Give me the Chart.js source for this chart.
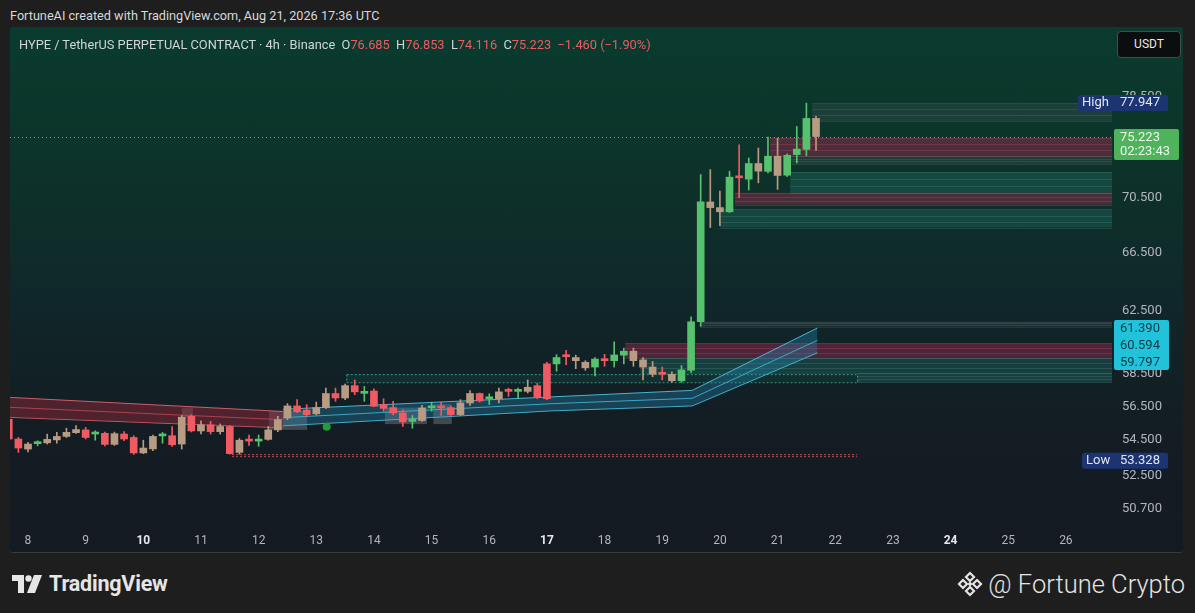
<!DOCTYPE html>
<html>
<head>
<meta charset="utf-8">
<script src="https://cdn.jsdelivr.net/npm/chart.js@4.4.1/dist/chart.umd.min.js"></script>
<style>
html,body{margin:0;padding:0;background:#1e1e1e;width:1195px;height:613px;overflow:hidden;font-family:Roboto,"Noto Sans",sans-serif;}
#credit{position:absolute;left:10px;top:8px;font-size:12.7px;color:#d8d8d8;}
#panel{position:absolute;left:10px;top:27px;width:1173px;height:525px;border-radius:3px;overflow:hidden;
  background:linear-gradient(180deg,#0a3b2e 0%,#0d3229 28%,#10272a 52%,#131d23 75%,#141a21 100%);
  box-shadow:0 1px 0 #3a3a3a;}
#wrap{position:absolute;left:-4px;top:1px;width:1177px;height:523px;}
#legend{position:absolute;left:19px;top:37px;font-size:12.8px;color:#d1d4dc;white-space:pre;}
#legend .v{color:#f05a62;}
#usdt{position:absolute;left:1117px;top:31px;width:62px;height:25px;border:1px solid #4a4a4a;border-radius:4px;background:#0c0d0f;
  color:#e8e8e8;font-size:12px;line-height:25px;text-align:center;}
#tvlogo{position:absolute;left:12px;top:571px;display:flex;align-items:center;color:#e6e6e6;font-size:21.5px;font-weight:700;letter-spacing:-0.2px;}
#brand{position:absolute;right:10px;top:569px;display:flex;align-items:center;color:#e4e4e4;font-size:25.5px;font-weight:300;}
</style>
</head>
<body>
<div id="credit">FortuneAI created with TradingView.com, Aug 21, 2026 17:36 UTC</div>
<div id="panel"><div id="wrap"><canvas id="grafico"></canvas></div></div>
<div id="legend"></div>
<div id="usdt">USDT</div>
<div id="tvlogo">
  <svg width="32" height="18" viewBox="0 0 32 18" style="margin-right:5px">
    <path d="M0 0h12v18H6V6H0z" fill="#e6e6e6"/>
    <circle cx="16.5" cy="3.5" r="3.2" fill="#e6e6e6"/>
    <path d="M22 0h8l-7 18h-8z" fill="#e6e6e6"/>
  </svg>TradingView
</div>
<div id="brand">
  <svg width="26" height="26" viewBox="0 0 26 26" style="margin-right:5px">
    <g fill="none" stroke="#e4e4e4" stroke-width="2.2">
      <path d="M13 2l4 4-4 4-4-4z"/><path d="M13 16l4 4-4 4-4-4z"/>
      <path d="M6 9l4 4-4 4-4-4z"/><path d="M20 9l4 4-4 4-4-4z"/>
    </g>
    <path d="M13 10.5l2.5 2.5-2.5 2.5-2.5-2.5z" fill="#e4e4e4"/>
  </svg>@ Fortune Crypto
</div>
<script>
//velas de 4h, a primeira abre em 7 de agosto 16:00 (eixo x em dias de agosto)
var firstCandleDay = 7 + 16 / 24;
var candleStep = 4 / 24;

var opens = [
  55.73,54.57,53.99,54.30,54.35,54.52,54.72,54.94,55.10,54.86,
  54.90,54.26,54.86,54.66,53.77,54.00,54.75,54.76,54.28,55.90,
  55.04,55.40,55.00,55.30,53.80,54.55,54.45,54.55,55.10,55.80,
  56.52,56.27,56.05,56.42,57.27,57.00,57.75,57.28,57.42,56.60,
  56.42,56.10,55.60,55.65,56.40,56.50,56.42,56.00,56.70,57.27,
  56.95,56.95,57.45,57.40,57.40,57.75,56.95,59.10,59.62,59.50,
  59.20,58.90,59.35,59.30,59.65,59.90,59.35,58.90,58.50,58.45,
  58.05,58.70,61.80,70.18,69.76,69.45,72.05,71.90,73.10,72.50,
  73.67,72.20,73.80,74.20,76.685
];
var highs = [
  55.80,54.66,54.38,54.47,54.85,54.96,55.20,55.36,55.25,55.05,
  54.97,54.97,55.00,54.76,54.50,54.80,54.95,55.30,55.95,56.00,
  55.63,55.60,55.45,55.36,54.60,54.80,54.80,55.30,55.90,56.66,
  56.90,56.60,56.75,57.60,57.60,57.85,58.10,57.70,57.55,56.95,
  56.80,56.30,55.95,56.55,56.75,56.75,56.50,56.90,57.45,57.30,
  57.25,57.60,57.60,57.60,58.10,57.90,59.20,59.68,59.95,59.65,
  59.30,59.50,59.70,60.50,60.10,60.10,59.50,59.25,58.90,58.60,
  59.00,62.13,72.25,72.63,71.00,72.51,74.57,73.53,74.31,75.18,
  75.10,73.85,76.03,77.947,76.853
];
var lows = [
  54.45,53.80,53.83,54.18,54.28,54.33,54.66,54.90,54.57,54.50,
  54.17,54.20,54.47,53.69,53.73,53.90,54.33,54.15,53.99,54.98,
  54.86,54.86,54.86,53.70,53.70,54.20,54.15,54.50,55.00,55.70,
  56.10,55.90,55.98,56.35,56.80,56.90,57.20,56.80,56.48,56.20,
  55.98,55.30,55.20,55.60,56.20,55.95,55.95,55.95,56.55,56.75,
  56.60,56.70,57.10,57.00,57.30,56.95,56.90,58.64,59.05,58.80,
  58.70,58.35,58.95,58.90,59.10,58.95,58.10,58.30,58.10,57.95,
  57.95,58.55,61.50,68.30,68.43,69.40,70.50,71.07,71.62,72.38,
  71.12,72.10,73.15,73.71,74.116
];
var closes = [
  54.57,54.05,54.28,54.34,54.55,54.72,54.96,55.12,54.66,54.90,
  54.26,54.88,54.57,53.77,54.05,54.72,54.80,54.24,55.85,55.04,
  55.40,55.00,55.30,53.73,54.50,54.45,54.52,55.10,55.70,56.52,
  56.17,56.00,56.42,57.27,57.00,57.75,57.37,57.32,56.50,56.37,
  56.10,55.57,55.65,56.40,56.47,56.40,56.00,56.70,57.27,56.82,
  57.00,57.37,57.40,57.45,57.65,57.05,59.10,59.50,59.55,59.30,
  58.85,59.40,59.30,59.66,59.90,59.30,58.90,58.45,58.45,58.05,
  58.72,61.80,70.18,69.76,69.45,72.05,72.00,73.10,72.51,73.67,
  72.18,73.74,74.23,76.683,75.223
];
//estado do indicador que pinta as velas: 1 alta, -1 baixa, 0 neutro
var barState = [
  -1,-1,0,1,0,0,0,0,-1,1,
  -1,0,-1,-1,0,0,1,-1,0,-1,
  0,-1,0,-1,0,-1,1,0,0,0,
  -1,-1,0,0,-1,0,-1,1,-1,-1,
  -1,-1,1,0,1,-1,-1,0,0,-1,
  1,0,-1,1,0,-1,-1,1,-1,0,
  0,1,-1,1,1,0,0,0,-1,0,
  1,1,1,0,0,1,-1,1,0,1,
  0,1,1,1,0
];

//faixa (ribbon) vermelha e azul: dias e preços das linhas
var redRibbonDays = [7.60, 12.42];
var redTop = [57.05, 56.19];
var redMid = [56.45, 55.70];
var redBot = [55.85, 55.22];
var tealRibbonDays = [12.42, 17.05, 19.52, 21.69];
var tealTop = [56.32, 57.06, 57.46, 61.390];
var tealMid = [55.82, 56.65, 56.98, 60.594];
var tealBot = [55.34, 56.22, 56.52, 59.797];

//zonas: [dia inicio, dia fim, preço alto, preço baixo]
var supplyZones = [[20.87, 26.9, 75.10, 73.70], [20.26, 26.9, 70.87, 69.98], [18.36, 26.9, 60.41, 59.47]];
var demandZones = [[21.22, 26.9, 72.44, 70.87], [20.00, 26.9, 69.62, 68.30], [18.62, 26.9, 59.47, 58.52], [22.38, 26.9, 58.52, 57.96]];
var neutralZones = [[21.60, 26.9, 77.92, 76.48], [21.22, 26.9, 73.70, 73.05], [19.66, 26.9, 61.81, 61.48]];
var highlightZones = [[10.67, 10.86, 56.42, 55.82], [12.18, 12.84, 56.22, 55.10], [14.19, 14.92, 56.42, 55.44], [15.03, 15.35, 56.63, 55.44]];
var dottedZone = [13.52, 22.38, 58.46, 57.96];
var lowLine = [11.54, 22.38, 53.70];
var signalDots = [{x: 13.18, y: 55.28}];

//eixos
var dayTicks = [8,9,10,11,12,13,14,15,16,17,18,19,20,21,22,23,24,25,26];
var boldDays = [10, 17, 24];
var priceTicks = [50.7, 52.5, 54.5, 56.5, 58.5, 62.5, 66.5, 70.5, 78.5];
var xMin = 7.688, xMax = 26.80, yMin = 49.6, yMax = 84.05;

//marcadores do eixo de preço
var highValue = 77.947, lowValue = 53.328, countdown = '02:23:43';
var ribbonEnds = [61.390, 60.594, 59.797];

var last = closes.length - 1;
var chg = closes[last] - closes[last - 1];
document.getElementById('legend').innerHTML =
  'HYPE / TetherUS PERPETUAL CONTRACT · 4h · Binance  ' +
  'O<span class="v">' + opens[last].toFixed(3) + '</span>  ' +
  'H<span class="v">' + highs[last].toFixed(3) + '</span>  ' +
  'L<span class="v">' + lows[last].toFixed(3) + '</span>  ' +
  'C<span class="v">' + closes[last].toFixed(3) + '</span>  ' +
  '<span class="v">' + (chg < 0 ? '\u2212' : '+') + Math.abs(chg).toFixed(3) + ' (' + (chg < 0 ? '\u2212' : '+') +
  Math.abs(chg / closes[last - 1] * 100).toFixed(2) + '%)</span>';

var GREEN = '#57c26d', RED = '#f05a62', MUTED = '#b89b83';
function stateColor(s) { return s > 0 ? GREEN : (s < 0 ? RED : MUTED); }
function isBold(c) { return !!(c && c.tick && boldDays.indexOf(c.tick.value) >= 0); }

var bodies = [], wicks = [];
for (var i = 0; i < opens.length; i++) {
  var d = firstCandleDay + i * candleStep;
  bodies.push({x: d, y: [opens[i], closes[i]]});
  wicks.push({x: d, y: [lows[i], highs[i]]});
}
function pts(days, vals) { return days.map(function (d, k) { return {x: d, y: vals[k]}; }); }

var ribbonLine = {type: 'line', pointRadius: 0, borderWidth: 1, tension: 0, order: 5};
var datasets = [
  Object.assign({}, ribbonLine, {data: pts(redRibbonDays, redTop), borderColor: 'rgba(245,110,120,0.8)', fill: '+2', backgroundColor: 'rgba(140,40,55,0.5)'}),
  Object.assign({}, ribbonLine, {data: pts(redRibbonDays, redMid), borderColor: 'rgba(245,110,120,0.8)', fill: false}),
  Object.assign({}, ribbonLine, {data: pts(redRibbonDays, redBot), borderColor: 'rgba(245,110,120,0.8)', fill: false}),
  Object.assign({}, ribbonLine, {data: pts(tealRibbonDays, tealTop), borderColor: 'rgba(80,205,235,0.85)', fill: '+2', backgroundColor: 'rgba(35,140,185,0.33)'}),
  Object.assign({}, ribbonLine, {data: pts(tealRibbonDays, tealMid), borderColor: 'rgba(80,205,235,0.85)', fill: false}),
  Object.assign({}, ribbonLine, {data: pts(tealRibbonDays, tealBot), borderColor: 'rgba(80,205,235,0.85)', fill: false}),
  {type: 'bar', data: wicks, barThickness: 1, grouped: false, order: 2,
   backgroundColor: function (c) { return stateColor(barState[c.dataIndex]); }},
  {type: 'bar', data: bodies, barThickness: 7, grouped: false, order: 1, minBarLength: 2,
   backgroundColor: function (c) { return stateColor(barState[c.dataIndex]); }},
  {type: 'scatter', data: signalDots, pointRadius: 4, pointBackgroundColor: '#1f9d3a', pointBorderWidth: 0, order: 0}
];

function zone(ctx, x, y, z, fill, stroke) {
  var x0 = x.getPixelForValue(z[0]), x1 = x.getPixelForValue(z[1]);
  var y0 = y.getPixelForValue(z[2]), y1 = y.getPixelForValue(z[3]);
  ctx.fillStyle = fill;
  ctx.fillRect(x0, y0, x1 - x0, y1 - y0);
  if (stroke) {
    ctx.strokeStyle = stroke; ctx.lineWidth = 1;
    for (var k = 0; k <= 3; k++) {
      var yy = Math.round(y0 + (y1 - y0) * k / 3) + 0.5;
      ctx.beginPath(); ctx.moveTo(x0, yy); ctx.lineTo(x1, yy); ctx.stroke();
    }
  }
}

function tag(ctx, x0, x1, top, bottom, bg) {
  ctx.fillStyle = bg;
  ctx.beginPath();
  if (ctx.roundRect) ctx.roundRect(x0, top, x1 - x0, bottom - top, 2); else ctx.rect(x0, top, x1 - x0, bottom - top);
  ctx.fill();
}

var overlays = {
  id: 'overlays',
  beforeDatasetsDraw: function (chart) {
    var ctx = chart.ctx, a = chart.chartArea, x = chart.scales.x, y = chart.scales.y;
    ctx.save();
    ctx.beginPath(); ctx.rect(a.left, a.top, a.width, a.height); ctx.clip();
    neutralZones.forEach(function (z) { zone(ctx, x, y, z, 'rgba(90,95,105,0.22)', 'rgba(140,145,155,0.18)'); });
    supplyZones.forEach(function (z) { zone(ctx, x, y, z, 'rgba(165,40,80,0.42)', 'rgba(220,80,120,0.25)'); });
    demandZones.forEach(function (z) { zone(ctx, x, y, z, 'rgba(40,130,120,0.30)', 'rgba(90,170,160,0.22)'); });
    //caixa pontilhada
    var dx0 = x.getPixelForValue(dottedZone[0]), dx1 = x.getPixelForValue(dottedZone[1]);
    var dy0 = y.getPixelForValue(dottedZone[2]), dy1 = y.getPixelForValue(dottedZone[3]);
    ctx.fillStyle = 'rgba(40,150,130,0.12)';
    ctx.fillRect(dx0, dy0, dx1 - dx0, dy1 - dy0);
    ctx.setLineDash([2, 2]); ctx.strokeStyle = 'rgba(60,190,160,0.75)'; ctx.lineWidth = 1;
    ctx.strokeRect(dx0 + 0.5, dy0 + 0.5, dx1 - dx0, dy1 - dy0);
    //linha da mínima
    var lx0 = x.getPixelForValue(lowLine[0]), lx1 = x.getPixelForValue(lowLine[1]), ly = y.getPixelForValue(lowLine[2]);
    ctx.strokeStyle = 'rgba(240,90,100,0.8)';
    ctx.beginPath(); ctx.moveTo(lx0, ly + 0.5); ctx.lineTo(lx1, ly + 0.5); ctx.stroke();
    ctx.beginPath(); ctx.moveTo(lx0, ly + 2.5); ctx.lineTo(lx1, ly + 2.5); ctx.stroke();
    //linha do preço atual
    var py = Math.round(y.getPixelForValue(closes[last])) + 0.5;
    ctx.setLineDash([1, 3]); ctx.strokeStyle = 'rgba(220,220,220,0.6)';
    ctx.beginPath(); ctx.moveTo(a.left, py); ctx.lineTo(a.right, py); ctx.stroke();
    ctx.restore();
  },
  afterDatasetDraw: function (chart, args) {
    if (args.index !== 5) return;
    var ctx = chart.ctx, a = chart.chartArea, x = chart.scales.x, y = chart.scales.y;
    ctx.save();
    ctx.beginPath(); ctx.rect(a.left, a.top, a.width, a.height); ctx.clip();
    highlightZones.forEach(function (z) { zone(ctx, x, y, z, 'rgba(150,155,165,0.35)'); });
    ctx.restore();
  },
  afterDraw: function (chart) {
    var ctx = chart.ctx, a = chart.chartArea, y = chart.scales.y;
    var r = a.right;
    ctx.save();
    ctx.font = '13px Roboto, sans-serif';
    ctx.textBaseline = 'middle';
    //máxima
    var hy = y.getPixelForValue(highValue);
    tag(ctx, r - 34, r + 56, hy - 8, hy + 8, '#1d3473');
    ctx.fillStyle = '#e3e6ee'; ctx.textAlign = 'left';
    ctx.fillText('High', r - 30, hy); ctx.fillText(highValue.toFixed(3), r + 8, hy);
    //preço atual
    var cy = y.getPixelForValue(closes[last]);
    tag(ctx, r + 2, r + 67, cy - 7.5, cy + 23.5, '#4fb35c');
    ctx.fillStyle = '#eaf7ec';
    ctx.fillText(closes[last].toFixed(3), r + 8, cy + 1); ctx.fillText(countdown, r + 8, cy + 15.5);
    //fim das faixas
    var ry = y.getPixelForValue(ribbonEnds[0]);
    tag(ctx, r + 2, r + 57, ry - 8, ry + 42, '#22c2da');
    ctx.fillStyle = '#0d3b48';
    ribbonEnds.forEach(function (v, k) { ctx.fillText(v.toFixed(3), r + 8, ry + 1 + k * 17); });
    //mínima
    var ly = y.getPixelForValue(lowValue);
    tag(ctx, r - 30, r + 56, ly - 8, ly + 8, '#1d3473');
    ctx.fillStyle = '#e3e6ee';
    ctx.fillText('Low', r - 26, ly); ctx.fillText(lowValue.toFixed(3), r + 8, ly);
    ctx.restore();
  }
};

var ctxEl = document.querySelector('#grafico');
var chart = new Chart(ctxEl, {
  type: 'bar',
  data: {datasets: datasets},
  options: {
    animation: false,
    responsive: true,
    maintainAspectRatio: false,
    layout: {padding: 0},
    plugins: {legend: {display: false}, tooltip: {enabled: false}},
    scales: {
      x: {
        type: 'linear', min: xMin, max: xMax, offset: false,
        grid: {display: false, drawTicks: false}, border: {display: false},
        afterBuildTicks: function (s) { s.ticks = dayTicks.map(function (v) { return {value: v}; }); },
        afterFit: function (s) { s.height = 22; s.paddingLeft = 0; s.paddingRight = 0; },
        ticks: {
          padding: 5, autoSkip: false, maxRotation: 0,
          callback: function (v) { return String(v); },
          color: function (c) { return isBold(c) ? '#e6e8ee' : '#b2b5be'; },
          font: function (c) { return {family: 'Roboto', size: 12, weight: isBold(c) ? 'bold' : 'normal'}; }
        }
      },
      y: {
        type: 'logarithmic', position: 'right', min: yMin, max: yMax,
        grid: {display: false, drawTicks: false}, border: {display: false},
        afterBuildTicks: function (s) { s.ticks = priceTicks.map(function (v) { return {value: v}; }); },
        afterFit: function (s) { s.width = 71; s.paddingTop = 0; s.paddingBottom = 0; },
        ticks: {
          padding: 10, color: '#b2b5be', font: {family: 'Roboto', size: 13},
          callback: function (v) { return Number(v).toFixed(3); }
        }
      }
    }
  },
  plugins: [overlays]
});
</script>
</body>
</html>
